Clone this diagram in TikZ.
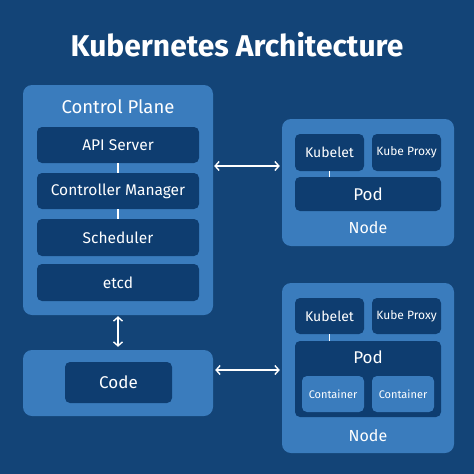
\documentclass[tikz,border=0pt]{standalone}
\usepackage{fontspec}
\setmainfont{Fira Sans}
\usepackage{tikz}
\usetikzlibrary{arrows.meta}
\definecolor{bgblue}{HTML}{134477}
\definecolor{panelblue}{HTML}{3A7CBD}
\definecolor{boxblue}{HTML}{0E3D70}
\tikzstyle{panel} = [fill=panelblue, rectangle, rounded corners=9pt, inner sep=0pt]
\tikzstyle{mybox} = [fill=boxblue, rectangle, rounded corners=5pt, inner sep=0pt, text=white, font=\fontsize{14}{16}\selectfont]
\tikzstyle{cpbox} = [mybox, minimum width=162pt, font=\fontsize{15.5}{17}\selectfont]
\tikzstyle{contbox} = [fill=panelblue, rectangle, rounded corners=5pt, inner sep=0pt, text=white, font=\fontsize{11}{13}\selectfont, minimum width=62pt, minimum height=36pt]
\tikzstyle{plabel} = [text=white, inner sep=0pt]
\tikzstyle{link} = [white, line width=1.4pt]
\tikzstyle{biarrow} = [white, line width=1.4pt, {Straight Barb[length=4pt,width=9pt]}-{Straight Barb[length=4pt,width=9pt]}]

\begin{document}
\begin{tikzpicture}[x=1pt, y=-1pt]
    \fill[bgblue] (0,0) rectangle (474,474);
    \useasboundingbox (0,0) rectangle (474,474);

    \node [plabel, font=\bfseries\fontsize{30}{34}\selectfont] (title) at (237,45) {Kubernetes Architecture};

    % Control plane
    \node [panel, minimum width=190pt, minimum height=230pt] (cp) at (118,200) {};
    \node [plabel, font=\fontsize{18.5}{20}\selectfont] (cptitle) at (118,107) {Control Plane};
    \node [cpbox, minimum height=36pt] (api) at (118,145) {API Server};
    \node [cpbox, minimum height=36pt] (cm) at (118,191) {Controller Manager};
    \node [cpbox, minimum height=37pt] (sched) at (118,237.5) {Scheduler};
    \node [cpbox, minimum height=37pt] (etcd) at (118,282.5) {etcd};
    \draw [link] (api) -- (cm);
    \draw [link] (cm) -- (sched);

    % Code
    \node [panel, minimum width=190pt, minimum height=66pt] (code) at (118,383) {};
    \node [mybox, minimum width=107pt, minimum height=41pt, font=\fontsize{17}{19}\selectfont] (codebox) at (118.5,382.5) {Code};

    % upper node
    \node [panel, minimum width=172pt, minimum height=127pt] (nodeA) at (368,182.5) {};
    \node [mybox, minimum width=69pt, minimum height=37pt] (kubeletA) at (329.5,152.5) {Kubelet};
    \node [mybox, minimum width=69pt, minimum height=37pt, font=\fontsize{12}{14}\selectfont] (proxyA) at (406.5,152.5) {Kube Proxy};
    \node [mybox, minimum width=146pt, minimum height=34pt, font=\fontsize{17}{19}\selectfont] (podA) at (368,194) {Pod};
    \node [plabel, font=\fontsize{16}{18}\selectfont] (nodeAlabel) at (368,228) {Node};
    \draw [link] (kubeletA) -- (kubeletA |- podA.north);

    % lower node
    \node [panel, minimum width=172pt, minimum height=170pt] (nodeB) at (368,368) {};
    \node [mybox, minimum width=69pt, minimum height=36pt] (kubeletB) at (329.5,316) {Kubelet};
    \node [mybox, minimum width=69pt, minimum height=36pt, font=\fontsize{12}{14}\selectfont] (proxyB) at (406.5,316) {Kube Proxy};
    \node [mybox, minimum width=146pt, minimum height=76pt] (podB) at (368,379) {};
    \node [plabel, font=\fontsize{17}{19}\selectfont] (podBlabel) at (368,357) {Pod};
    \node [contbox] (contA) at (333,394) {Container};
    \node [contbox] (contB) at (403,394) {Container};
    \node [plabel, font=\fontsize{16}{18}\selectfont] (nodeBlabel) at (368,436) {Node};
    \draw [link] (kubeletB) -- (kubeletB |- podB.north);

    % arrows
    \draw [biarrow, shorten <=1pt, shorten >=2pt] (cp.east |- 0,166) -- (nodeA.west |- 0,166);
    \draw [biarrow, shorten <=2pt, shorten >=2pt] (code.east |- 0,370) -- (nodeB.west |- 0,370);
    \draw [biarrow, shorten <=1pt, shorten >=3pt] (cp.south) -- (code.north);
\end{tikzpicture}
\end{document}
